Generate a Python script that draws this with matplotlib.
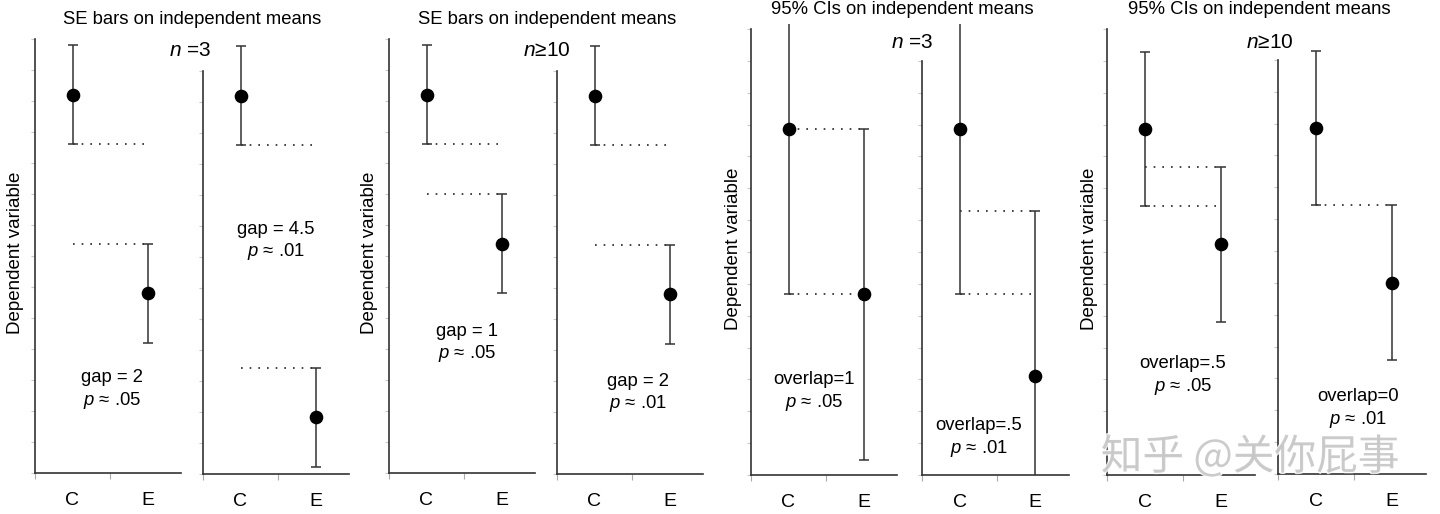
import matplotlib
matplotlib.use("Agg")
import matplotlib.pyplot as plt
import matplotlib.patheffects as pe

plt.rcParams['font.family'] = ['Liberation Sans', 'DejaVu Sans']
plt.rcParams['mathtext.fontset'] = 'custom'
plt.rcParams['mathtext.it'] = 'Liberation Sans:italic'
plt.rcParams['mathtext.rm'] = 'Liberation Sans'

# values (arbitrary units of the dependent variable)
categories = ["C", "E"]
titles = ["SE bars on independent means", "SE bars on independent means",
          "95% CIs on independent means", "95% CIs on independent means"]
n_labels = ["$n$ =3", "$n$\u226510", "$n$ =3", "$n$\u226510"]
c_mean = [12.2, 12.2, 12.2, 12.2, 10.86, 10.86, 10.86, 10.86]
c_arm = [1.6, 1.6, 1.6, 1.6, 5.19, 5.19, 2.43, 2.43]
e_mean = [5.8, 1.83, 7.4, 5.8, 5.67, 3.1, 7.24, 6.0]
e_arm = [1.6, 1.6, 1.6, 1.6, 5.19, 5.19, 2.43, 2.43]
notes = ["gap = 2\n$p$ \u2248 .05", "gap = 4.5\n$p$ \u2248 .01",
         "gap = 1\n$p$ \u2248 .05", "gap = 2\n$p$ \u2248 .01",
         "overlap=1\n$p$ \u2248 .05", "overlap=.5\n$p$ \u2248 .01",
         "overlap=.5\n$p$ \u2248 .05", "overlap=0\n$p$ \u2248 .01"]
axis_top = [14, 13, 14, 13, 14, 13, 14, 13]

# layout, in pixels of the 1440x514 picture
W, H = 1440, 514
ax_left = [35, 203, 389, 557, 751, 922, 1107, 1278]
ax_bottom = [473, 474, 473, 474, 475, 475, 475, 474]
ux = [75, 75, 75, 75, 75, 75.5, 76, 76]
uy = [31.0, 31.0, 31.0, 31.0, 31.86, 31.86, 31.86, 31.86]
note_xy = [(1.53, 2.68), (1.47, 7.5), (1.54, 4.18), (1.58, 2.6),
           (1.34, 2.6), (1.255, 1.15), (1.5, 3.1), (1.553, 2.04)]
title_xy = [(192, 19), (547, 19), (902, 10), (1259, 10)]
n_xy = [(190, 51), (547, 51), (912, 42), (1270, 42)]
ylab_xy = [(16, 253), (370, 253), (733, 249), (1090, 249)]

FS = 13.3
dark = '#333333'

fig = plt.figure(figsize=(14.4, 5.14), dpi=100)

for i in range(8):
    xl = (0.5, 2.45)
    ytop = 14.15
    w = (xl[1] - xl[0]) * ux[i]
    h = ytop * uy[i]
    ax = fig.add_axes([ax_left[i] / W, (H - ax_bottom[i]) / H, w / W, h / H])
    ax.set_xlim(*xl)
    ax.set_ylim(0, ytop)

    lo_c = c_mean[i] - c_arm[i]
    hi_e = e_mean[i] + e_arm[i]
    levels = [lo_c] if abs(lo_c - hi_e) < 0.05 else [lo_c, hi_e]
    for lvl in levels:
        ax.plot([1, 2], [lvl, lvl], color='#222222', lw=1.2, ls=(0, (1, 4.2)), zorder=2)

    ax.errorbar([1, 2], [c_mean[i], e_mean[i]], yerr=[c_arm[i], e_arm[i]],
                fmt='o', color='black', ms=8.8, ecolor=dark, elinewidth=1.1,
                capsize=3.6, capthick=1.1, zorder=3)

    ax.text(note_xy[i][0], note_xy[i][1], notes[i], ha='center', va='center',
            fontsize=FS, linespacing=1.25)

    for s in ('top', 'right'):
        ax.spines[s].set_visible(False)
    ax.spines['left'].set_bounds(0, axis_top[i])
    for s in ('left', 'bottom'):
        ax.spines[s].set_color(dark)
        ax.spines[s].set_linewidth(1.2)

    ax.set_yticks(range(0, axis_top[i] + 1))
    ax.tick_params(axis='y', length=3, width=0.8, color='#c8c8c8', labelleft=False)
    ax.set_xticks([1, 2], categories)
    ax.tick_params(axis='x', which='major', length=0, pad=14, labelsize=14)
    ax.set_xticks([0.5, 1.5], minor=True)
    ax.tick_params(axis='x', which='minor', length=4, width=0.8, color='#aaaaaa')

for g in range(4):
    fig.text(title_xy[g][0] / W, 1 - title_xy[g][1] / H, titles[g],
             ha='center', va='center', fontsize=FS)
    fig.text(n_xy[g][0] / W, 1 - n_xy[g][1] / H, n_labels[g],
             ha='center', va='center', fontsize=15)
    fig.text(ylab_xy[g][0] / W, 1 - ylab_xy[g][1] / H, "Dependent variable",
             ha='center', va='center', rotation=90, fontsize=13.5)

fig.text(1250 / W, 1 - 457 / H, "知乎 @关你屁事", ha='center', va='center',
         fontsize=30, color='#c4c4c4', alpha=0.85, zorder=10,
         family=['Noto Sans CJK SC', 'DejaVu Sans'],
         path_effects=[pe.withStroke(linewidth=2, foreground='white')])

fig.savefig("out.png", dpi=100)
